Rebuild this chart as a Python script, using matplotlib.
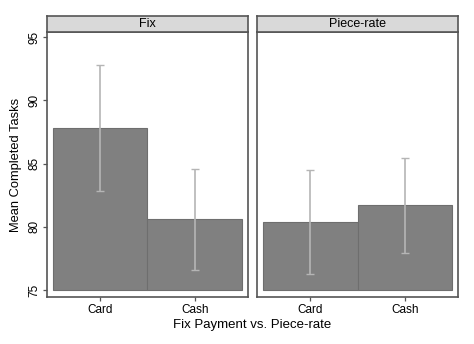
import matplotlib
matplotlib.use("Agg")
import matplotlib.pyplot as plt
import numpy as np

plt.rcParams['font.family'] = ['Liberation Sans', 'DejaVu Sans']

panels = ['Fix', 'Piece-rate']
methods = ['Card', 'Cash']
means = {'Fix': [87.8, 80.6], 'Piece-rate': [80.4, 81.7]}
errs = {'Fix': [5.0, 4.0], 'Piece-rate': [4.1, 3.75]}
yticks = [75, 80, 85, 90, 95]

frame_col = '#555555'
fig = plt.figure(figsize=(4.74, 3.44), dpi=100)
lefts = [47 / 474, 257 / 474]
w = 201 / 474
bottom = 1 - 297 / 344
h = (297 - 32) / 344
strip_h = 16 / 344

for i, p in enumerate(panels):
    ax = fig.add_axes([lefts[i], bottom, w, h])
    x = np.arange(len(methods))
    ax.bar(x, np.array(means[p]) - 75, bottom=75, width=1.0,
           color='#808080', edgecolor='#6e6e6e', linewidth=0.8)
    ax.errorbar(x, means[p], yerr=errs[p], fmt='none', ecolor='#b5b5b5',
                elinewidth=1.2, capsize=3, capthick=1.0)
    ax.set_xlim(-0.564, 1.564)
    ax.set_ylim(74.45, 95.4)
    ax.set_xticks(x)
    ax.set_xticklabels(methods, fontsize=8.5)
    for s in ax.spines.values():
        s.set_color(frame_col)
        s.set_linewidth(1.2)
    ax.tick_params(axis='both', colors=frame_col, labelcolor='black',
                   length=3, width=0.9, pad=2)
    if i == 0:
        ax.set_yticks(yticks)
        ax.set_yticklabels([str(t) for t in yticks], rotation=90,
                           va='center', fontsize=8.5)
        ax.set_ylabel('Mean Completed Tasks', fontsize=9.3, labelpad=4)
    else:
        ax.set_yticks([])
    # strip header
    sax = fig.add_axes([lefts[i], bottom + h, w, strip_h])
    sax.set_facecolor('#d9d9d9')
    sax.set_xticks([])
    sax.set_yticks([])
    for s in sax.spines.values():
        s.set_color(frame_col)
        s.set_linewidth(1.2)
    sax.text(0.5, 0.5, p, ha='center', va='center', fontsize=9,
             transform=sax.transAxes)

fig.text((47 + 457) / 2 / 474, 1 - 325 / 344, 'Fix Payment vs. Piece-rate',
         ha='center', va='center', fontsize=9.5)

fig.savefig('out.png', dpi=100, facecolor='white')
